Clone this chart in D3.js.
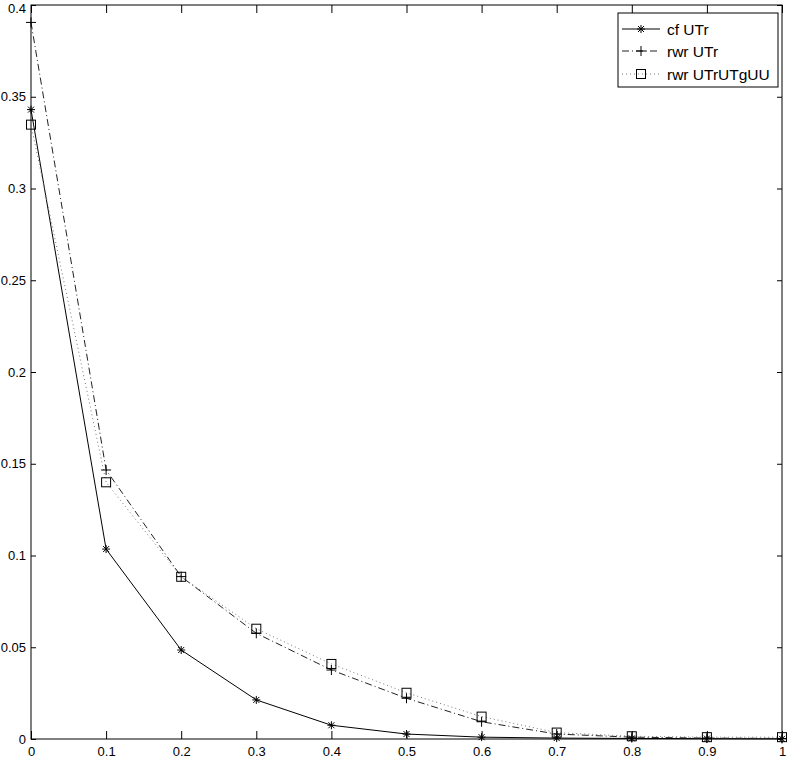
<!DOCTYPE html>
<html>
<head>
<meta charset="utf-8">
<script src="https://cdn.jsdelivr.net/npm/d3@7"></script>
<style>
  html, body { margin: 0; padding: 0; background: #fff; }
  svg { display: block; }
  text { font-family: "Liberation Sans", Arial, Helvetica, sans-serif; fill: #000; }
</style>
</head>
<body>
<svg id="chart" width="791" height="759"></svg>
<script>
// ---- data ----
const xValues = [0, 0.1, 0.2, 0.3, 0.4, 0.5, 0.6, 0.7, 0.8, 0.9, 1.0];
const cfUTr = [0.343, 0.1035, 0.0485, 0.0213, 0.0075, 0.0027, 0.0010, 0.0005, 0.0003, 0.0002, 0.0001];
const rwrUTr = [0.3905, 0.1466, 0.0885, 0.0576, 0.0376, 0.0222, 0.0094, 0.0027, 0.0010, 0.0005, 0.0003];
const rwrUTrUTgUU = [0.3348, 0.1399, 0.0884, 0.0601, 0.0409, 0.0252, 0.0122, 0.0035, 0.0015, 0.0010, 0.0010];
const seriesNames = ["cf UTr", "rwr UTr", "rwr UTrUTgUU"];
const xTicks = [0, 0.1, 0.2, 0.3, 0.4, 0.5, 0.6, 0.7, 0.8, 0.9, 1];
const yTicks = [0, 0.05, 0.1, 0.15, 0.2, 0.25, 0.3, 0.35, 0.4];

// ---- layout ----
const svg = d3.select("#chart");
const L = 31, R = 782, T = 5, B = 739;
const x = d3.scaleLinear().domain([0, 1]).range([L, R]);
const y = d3.scaleLinear().domain([0, 0.4]).range([B, T]);

const fmt = d => String(+d.toFixed(2));

const xAxisB = d3.axisBottom(x).tickValues(xTicks).tickSize(-8).tickPadding(8).tickFormat(fmt);
const xAxisT = d3.axisTop(x).tickValues(xTicks).tickSize(-8).tickFormat("");
const yAxisL = d3.axisLeft(y).tickValues(yTicks).tickSize(-5).tickPadding(5).tickFormat(fmt);
const yAxisR = d3.axisRight(y).tickValues(yTicks).tickSize(-5).tickFormat("");

function styleAxis(g) {
  g.attr("font-size", null).attr("font-family", null);
  g.select(".domain").remove();
  g.selectAll(".tick line").attr("stroke", "#000").attr("stroke-width", 1);
  g.selectAll(".tick text").attr("fill", "#000")
    .style("font-size", "13px")
    .style("font-family", "'Liberation Sans', Arial, sans-serif");
}
svg.append("g").attr("transform", `translate(0,${B})`).call(xAxisB).call(styleAxis);
svg.append("g").attr("transform", `translate(0,${T})`).call(xAxisT).call(styleAxis);
const gy = svg.append("g").attr("transform", `translate(${L},0)`).call(yAxisL).call(styleAxis);
svg.append("g").attr("transform", `translate(${R},0)`).call(yAxisR).call(styleAxis);

// top y label nudged down so it stays inside the canvas (as in the reference)
gy.selectAll(".tick text").filter(d => d === yTicks[yTicks.length - 1]).attr("dy", "0.55em");

// plot box
svg.append("rect").attr("x", L).attr("y", T).attr("width", R - L).attr("height", B - T)
  .attr("fill", "none").attr("stroke", "#000").attr("stroke-width", 1);

// ---- series ----
const series = [
  { name: seriesNames[0], values: cfUTr, dash: null, color: "#000", width: 1, marker: "star" },
  { name: seriesNames[1], values: rwrUTr, dash: "7,3,1,3", color: "#222", width: 1, marker: "plus" },
  { name: seriesNames[2], values: rwrUTrUTgUU, dash: "1,3", color: "#777", width: 1, marker: "square" }
];

const line = d3.line().x((d, i) => x(xValues[i])).y(d => y(d));

function drawMarker(g, type, cx, cy) {
  const s = 4;
  if (type === "star") {
    const p = d3.path();
    p.moveTo(cx - s, cy); p.lineTo(cx + s, cy);
    p.moveTo(cx, cy - s); p.lineTo(cx, cy + s);
    p.moveTo(cx - s * 0.75, cy - s * 0.75); p.lineTo(cx + s * 0.75, cy + s * 0.75);
    p.moveTo(cx - s * 0.75, cy + s * 0.75); p.lineTo(cx + s * 0.75, cy - s * 0.75);
    g.append("path").attr("d", p.toString()).attr("stroke", "#000").attr("stroke-width", 1).attr("fill", "none");
  } else if (type === "plus") {
    const p = d3.path();
    p.moveTo(cx - 5, cy); p.lineTo(cx + 5, cy);
    p.moveTo(cx, cy - 5); p.lineTo(cx, cy + 5);
    g.append("path").attr("d", p.toString()).attr("stroke", "#000").attr("stroke-width", 1).attr("fill", "none");
  } else if (type === "square") {
    g.append("rect").attr("x", cx - 4.5).attr("y", cy - 4.5).attr("width", 9).attr("height", 9)
      .attr("fill", "none").attr("stroke", "#000").attr("stroke-width", 1);
  }
}

const plotG = svg.append("g");
series.forEach(s => {
  plotG.append("path").datum(s.values).attr("d", line)
    .attr("fill", "none").attr("stroke", s.color).attr("stroke-width", s.width)
    .attr("stroke-dasharray", s.dash);
});
series.forEach(s => {
  const mg = plotG.append("g");
  s.values.forEach((v, i) => drawMarker(mg, s.marker, x(xValues[i]), y(v)));
});

// ---- legend ----
const lg = svg.append("g");
lg.append("rect").attr("x", 618).attr("y", 13).attr("width", 160).attr("height", 74)
  .attr("fill", "#fff").attr("stroke", "#000").attr("stroke-width", 1);
const rowY = [29, 51, 74];
series.forEach((s, i) => {
  lg.append("line").attr("x1", 622).attr("x2", 660).attr("y1", rowY[i]).attr("y2", rowY[i])
    .attr("stroke", s.color).attr("stroke-width", s.width).attr("stroke-dasharray", s.dash);
  drawMarker(lg, s.marker, 641, rowY[i]);
  lg.append("text").attr("x", 667).attr("y", rowY[i]).attr("dy", "0.36em")
    .style("font-size", "15.5px").text(s.name);
});
</script>
</body>
</html>
